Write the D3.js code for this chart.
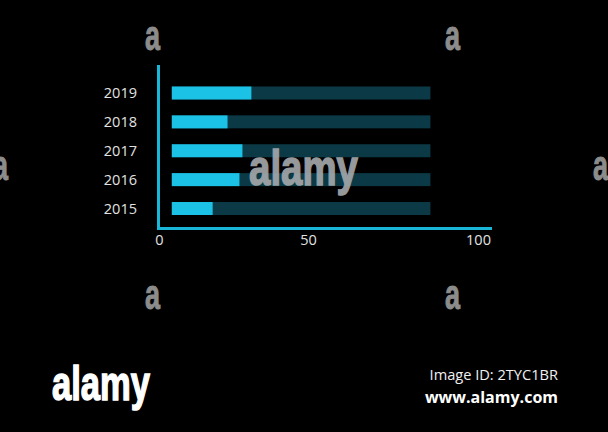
<!DOCTYPE html>
<html>
<head>
<meta charset="utf-8">
<script src="https://cdn.jsdelivr.net/npm/d3@7"></script>
<style>
  html, body { margin: 0; padding: 0; background: #000; }
  svg { display: block; }
</style>
</head>
<body>
<div id="chart"></div>
<script>
// data
const years = ["2015", "2016", "2017", "2018", "2019"];
const values = [18, 27, 28, 23, 31];
const trackMax = 86;
const tickValues = [0, 50, 100];

// size
const width = 608, height = 432;
const cyan = "#1bc2e6";
const axisColor = "#1ab6d8";
const track = "#0b3a46";
const barStart = 4.3;

const svg = d3.select("#chart").append("svg")
  .attr("width", width)
  .attr("height", height)
  .style("background", "#000");

// scales (the picture's axis is not evenly spaced, so piecewise)
const x = d3.scaleLinear().domain([0, 50, 100]).range([159, 308, 478]);
const y = d3.scalePoint().domain(years).range([208.5, 93]);
const barH = 13;

const rows = years.map((year, i) => ({ year, value: values[i] }));

// track bars
svg.append("g").selectAll("rect")
  .data(rows)
  .join("rect")
  .attr("x", x(barStart))
  .attr("y", (d) => y(d.year) - barH / 2)
  .attr("width", x(trackMax) - x(barStart))
  .attr("height", barH)
  .attr("fill", track);

// value bars
svg.append("g").selectAll("rect")
  .data(rows)
  .join("rect")
  .attr("x", x(barStart))
  .attr("y", (d) => y(d.year) - barH / 2)
  .attr("width", (d) => x(d.value) - x(barStart))
  .attr("height", barH)
  .attr("fill", cyan);

// axis lines
svg.append("line")
  .attr("x1", 158.5).attr("x2", 158.5)
  .attr("y1", 65).attr("y2", 229.5)
  .attr("stroke", axisColor).attr("stroke-width", 3);
svg.append("line")
  .attr("x1", 157).attr("x2", 492)
  .attr("y1", 228.5).attr("y2", 228.5)
  .attr("stroke", axisColor).attr("stroke-width", 3);

// x tick labels
const xAxis = svg.append("g")
  .attr("transform", "translate(0,233)")
  .call(d3.axisBottom(x).tickValues(tickValues).tickSize(0).tickPadding(2).tickFormat(d3.format("d")));
xAxis.select(".domain").remove();
xAxis.selectAll("text")
  .attr("fill", "#e2e2e2")
  .attr("font-family", "Open Sans")
  .attr("font-size", 14.5);

// y labels
svg.append("g").selectAll("text")
  .data(rows)
  .join("text")
  .attr("x", 137)
  .attr("y", (d) => y(d.year))
  .attr("dy", "0.36em")
  .attr("text-anchor", "end")
  .attr("fill", "#e2e2e2")
  .attr("font-family", "Open Sans")
  .attr("font-size", 14.5)
  .text((d) => d.year);

// watermark
const mark = svg.append("g")
  .attr("font-family", "Liberation Sans")
  .attr("font-weight", "bold");

const smallA = [[145, 50], [445, 50], [-7, 180], [593, 180], [145, 309], [445, 309]];
mark.selectAll("text.a")
  .data(smallA)
  .join("text")
  .attr("class", "a")
  .attr("x", (d) => d[0])
  .attr("y", (d) => d[1])
  .attr("font-size", 42)
  .attr("textLength", 15)
  .attr("lengthAdjust", "spacingAndGlyphs")
  .attr("fill", "#8c8c8c")
  .attr("stroke", "#8c8c8c")
  .attr("stroke-width", 1)
  .text("a");

mark.append("text")
  .attr("x", 249).attr("y", 185)
  .attr("font-size", 50)
  .attr("textLength", 109)
  .attr("lengthAdjust", "spacingAndGlyphs")
  .attr("fill", "#a3a7aa")
  .attr("stroke", "#a3a7aa")
  .attr("stroke-width", 1.5)
  .attr("opacity", 0.92)
  .text("alamy");

mark.append("text")
  .attr("x", 52).attr("y", 400)
  .attr("font-size", 48)
  .attr("textLength", 98)
  .attr("lengthAdjust", "spacingAndGlyphs")
  .attr("fill", "#fff")
  .attr("stroke", "#fff")
  .attr("stroke-width", 1.5)
  .text("alamy");

svg.append("text")
  .attr("x", 558).attr("y", 380)
  .attr("text-anchor", "end")
  .attr("font-family", "Open Sans")
  .attr("font-size", 14.6)
  .attr("fill", "#f0f0f0")
  .text("Image ID: 2TYC1BR");

svg.append("text")
  .attr("x", 558).attr("y", 403)
  .attr("text-anchor", "end")
  .attr("font-family", "Open Sans")
  .attr("font-weight", "bold")
  .attr("font-size", 16)
  .attr("fill", "#fff")
  .text("www.alamy.com");
</script>
</body>
</html>
